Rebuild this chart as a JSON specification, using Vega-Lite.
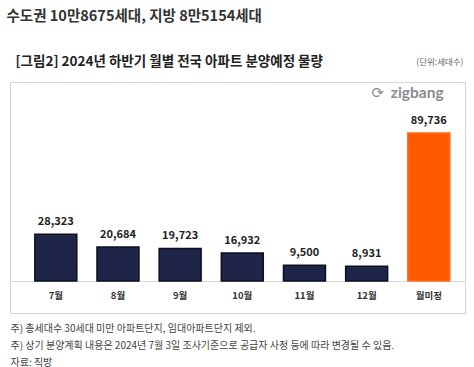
{
  "$schema": "https://vega.github.io/schema/vega-lite/v6.json",
  "width": 455,
  "height": 231,
  "autosize": {"type": "none"},
  "padding": {"left": 10, "top": 82, "right": 9, "bottom": 54},
  "background": "white",
  "config": {"font": "Noto Sans CJK KR", "view": {"stroke": "#d4d4d4", "strokeWidth": 1}},
  "data": {"values": [
    {"month": "7월", "value": 28323, "group": "월별"},
    {"month": "8월", "value": 20684, "group": "월별"},
    {"month": "9월", "value": 19723, "group": "월별"},
    {"month": "10월", "value": 16932, "group": "월별"},
    {"month": "11월", "value": 9500, "group": "월별"},
    {"month": "12월", "value": 8931, "group": "월별"},
    {"month": "월미정", "value": 89736, "group": "미정"}
  ]},
  "resolve": {"axis": {"x": "independent", "y": "independent"}},
  "layer": [
    {
      "mark": {"type": "bar", "strokeWidth": 1.5},
      "encoding": {
        "x": {
          "field": "month", "type": "nominal", "sort": null,
          "scale": {"paddingInner": 0.325, "paddingOuter": 0.322, "align": 0.62},
          "axis": {
            "orient": "bottom", "offset": -32, "domainColor": "#d9d9d9", "ticks": false,
            "labelAngle": 0, "labelPadding": 9, "labelFontSize": 9.5, "labelFontWeight": "bold", "labelColor": "#333",
            "title": ["주) 총세대수 30세대 미만 아파트단지, 임대아파트단지 제외.", "주) 상기 분양계획 내용은 2024년 7월 3일 조사기준으로 공급자 사정 등에 따라 변경될 수 있음.", "자료: 직방"],
            "titleAnchor": "start", "titleAlign": "left", "titleX": 0, "titleY": 42, "titleBaseline": "top",
            "titleFontSize": 10, "titleFontWeight": "normal", "titleColor": "#444", "titleLineHeight": 17
          }
        },
        "y": {
          "field": "value", "type": "quantitative",
          "scale": {"domain": [-19400, 120680], "nice": false},
          "axis": {
            "orient": "left", "labels": false, "ticks": false, "domain": false, "grid": false,
            "title": "[그림2] 2024년 하반기 월별 전국 아파트 분양예정 물량",
            "titleAngle": 0, "titleAlign": "left", "titleBaseline": "middle", "titleX": 5, "titleY": -21,
            "titleFontSize": 13.5, "titleFontWeight": "bold", "titleColor": "#222"
          }
        },
        "y2": {"datum": 0},
        "fill": {"field": "group", "type": "nominal", "scale": {"domain": ["월별", "미정"], "range": ["#1e2548", "#ff5a00"]}, "legend": null},
        "stroke": {"field": "group", "type": "nominal", "scale": {"domain": ["월별", "미정"], "range": ["#0b0f22", "#ff6a1a"]}, "legend": null}
      }
    },
    {
      "mark": {"type": "text", "baseline": "middle", "dy": -12, "fontSize": 11, "fontWeight": "bold", "color": "#222"},
      "encoding": {
        "x": {
          "field": "month", "type": "nominal", "sort": null,
          "axis": {
            "orient": "top", "labels": false, "ticks": false, "domain": false,
            "title": "수도권 10만8675세대, 지방 8만5154세대",
            "titleAnchor": "start", "titleAlign": "left", "titleX": -4, "titleY": -66, "titleBaseline": "middle",
            "titleFontSize": 14.5, "titleFontWeight": "bold", "titleColor": "#333"
          }
        },
        "y": {
          "field": "value", "type": "quantitative",
          "axis": {
            "orient": "right", "labels": false, "ticks": false, "domain": false, "grid": false,
            "title": "(단위:세대수)", "titleAngle": 0, "titleAlign": "right", "titleBaseline": "middle",
            "titleX": -2, "titleY": -21, "titleFontSize": 8.5, "titleFontWeight": "normal", "titleColor": "#666"
          }
        },
        "text": {"field": "value", "type": "quantitative", "format": ","}
      }
    },
    {
      "data": {"values": [{"logo": "zigbang", "icon": "⟳"}]},
      "layer": [
        {
          "mark": {"type": "text", "baseline": "middle", "align": "left", "dx": -38, "fontSize": 15.5, "font": "Lato", "fontWeight": "bold", "color": "#8c8c8c"},
          "encoding": {
            "x": {"datum": "월미정", "type": "nominal", "axis": null},
            "y": {"datum": 114000, "type": "quantitative", "axis": null},
            "text": {"field": "logo"}
          }
        },
        {
          "mark": {"type": "text", "baseline": "middle", "align": "center", "dx": -51, "fontSize": 15, "font": "DejaVu Sans", "color": "#8c8c8c"},
          "encoding": {
            "x": {"datum": "월미정", "type": "nominal", "axis": null},
            "y": {"datum": 114000, "type": "quantitative", "axis": null},
            "text": {"field": "icon"}
          }
        }
      ]
    }
  ]
}
